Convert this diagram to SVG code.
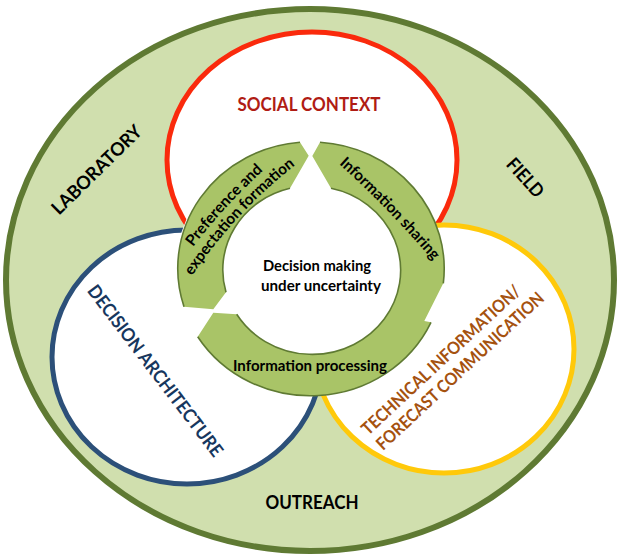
<svg xmlns="http://www.w3.org/2000/svg" width="620" height="560" viewBox="0 0 620 560">
<style>
text{font-family:Lato,"Liberation Sans",sans-serif;font-weight:700;fill:#000}
.c{fill:#fff;stroke-width:5}
.seg{fill:#a9c467}
.edge{fill:none;stroke:#5f7a33;stroke-width:1.6}
.m{text-anchor:middle}
.t{font-size:15.5px}
.r{font-size:18.5px}
.o{fill:#a5520f;font-size:17.5px}
</style>
<defs>
<path id="p1" d="M193,247 Q226,204 266,168"/>
<path id="p2" d="M192,276 Q237,210 298,163"/>
<path id="p3" d="M339,164 Q388,208 435,263"/>
</defs>
<rect width="620" height="560" fill="#fff"/>
<g id="outer"><ellipse cx="310" cy="280" rx="304" ry="271" fill="#d0dfae" stroke="#5f7a33" stroke-width="6"/></g>
<g id="social-context"><ellipse class="c" cx="312" cy="160" rx="145" ry="128" stroke="#fa2a0c"/></g>
<g id="technical-information"><ellipse class="c" cx="444" cy="349" rx="130" ry="124" stroke="#ffc90a"/></g>
<g id="decision-architecture"><ellipse class="c" cx="187" cy="357" rx="135" ry="127" stroke="#2c5079"/></g>
<g id="ring">
<ellipse cx="310" cy="268.5" rx="134" ry="127.5" fill="#fff"/>
<path class="seg" d="M300,142.3 L308.7,155.7 L290,188.3 A88.5,84 0 0 0 226,292.3 L213.3,309.3 L184,306.7 A133,126.5 0 0 1 300,142.3 Z"/>
<path class="seg" d="M320,142.3 L312.3,156 L331,188.3 A88.5,84 0 1 1 236.7,314.3 L213.3,312.7 L197.7,336.7 A133,126.5 0 0 0 431,322.3 L424.3,321 L443.3,283.3 A133,126.5 0 0 0 320,142.3 Z"/>
<path class="edge" d="M290,188.3 A88.5,84 0 0 0 226,292.3 M184,306.7 A133,126.5 0 0 1 300,142.3 M331,188.3 A88.5,84 0 1 1 236.7,314.3 M197.7,336.7 A133,126.5 0 0 0 431,322.3 M443.3,283.3 A133,126.5 0 0 0 320,142.3"/>
</g>
<g id="labels">
<text class="r m" x="309" y="111" textLength="143" lengthAdjust="spacingAndGlyphs" style="fill:#b01c14">SOCIAL CONTEXT</text>
<text class="r m" transform="translate(97,170) rotate(-44.5)" x="0" y="6" textLength="118" lengthAdjust="spacingAndGlyphs">LABORATORY</text>
<text class="r m" transform="translate(525,178) rotate(48)" x="0" y="6" textLength="46" lengthAdjust="spacingAndGlyphs">FIELD</text>
<text class="r m" x="312" y="509" textLength="93" lengthAdjust="spacingAndGlyphs">OUTREACH</text>
<text class="r m" transform="translate(155,371) rotate(52.7)" x="0" y="6" textLength="210" lengthAdjust="spacingAndGlyphs" style="fill:#17375e">DECISION ARCHITECTURE</text>
<text class="o m" transform="translate(441,360) rotate(-43)" x="0" y="6" textLength="210" lengthAdjust="spacingAndGlyphs" style="fill:#a5520f">TECHNICAL INFORMATION/</text>
<text class="o m" transform="translate(460,371) rotate(-43)" x="0" y="6" textLength="222" lengthAdjust="spacingAndGlyphs" style="fill:#a5520f">FORECAST COMMUNICATION</text>
<text class="t m" x="317" y="271" textLength="108" lengthAdjust="spacingAndGlyphs">Decision making</text>
<text class="t m" x="321" y="291" textLength="120" lengthAdjust="spacingAndGlyphs">under uncertainty</text>
<text class="t m" x="310" y="371" textLength="154" lengthAdjust="spacingAndGlyphs">Information processing</text>
<text class="t"><textPath href="#p1" textLength="104" lengthAdjust="spacingAndGlyphs">Preference and</textPath></text>
<text class="t"><textPath href="#p2" textLength="152" lengthAdjust="spacingAndGlyphs">expectation formation</textPath></text>
<text class="t"><textPath href="#p3" textLength="135" lengthAdjust="spacingAndGlyphs">Information sharing</textPath></text>
</g>
</svg>
